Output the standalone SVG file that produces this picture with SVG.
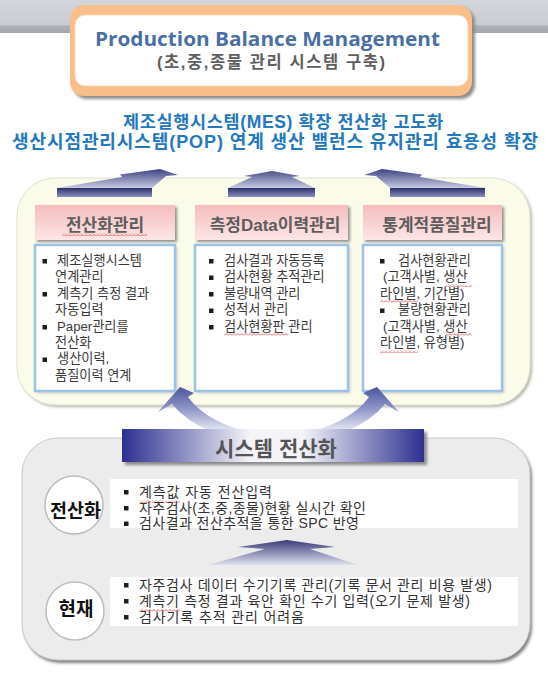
<svg xmlns="http://www.w3.org/2000/svg" width="548" height="676" viewBox="0 0 548 676">
<defs>
<style>
.kr{font-family:"Liberation Sans","Noto Sans CJK KR",sans-serif}
.en{font-family:"Open Sans","Liberation Sans",sans-serif}
.hdr{font-size:17px;font-weight:700;fill:#5e5e5e;text-anchor:middle}
.item{font-size:13.2px;fill:#3a3a3a}
.strip{font-size:14px;fill:#333}
.blue{font-weight:700;fill:#2478bd;text-anchor:middle}
.bul{fill:#1e1e1e}
.hbox{fill:url(#pink)}
.cbox{fill:#fff;stroke:#9cc3e6;stroke-width:2.5}
.shd{fill:#8c8c8c;filter:url(#blur)}
.sq{fill:url(#squig)}
.face{fill:url(#faceG)}
.bar{fill:url(#barG)}
</style>
<filter id="blur" x="-10%" y="-10%" width="120%" height="130%"><feGaussianBlur stdDeviation="1.4"/></filter>
<linearGradient id="band" x1="0" y1="0" x2="0" y2="1">
<stop offset="0" stop-color="#d3d6db"/><stop offset="0.76" stop-color="#c9ccd2"/><stop offset="0.78" stop-color="#aeb1b7"/><stop offset="1" stop-color="#a4a7ad"/>
</linearGradient>
<linearGradient id="pink" x1="0" y1="0" x2="0" y2="1">
<stop offset="0" stop-color="#f5bcbd"/><stop offset="1" stop-color="#fde6e6"/>
</linearGradient>
<linearGradient id="faceG" gradientUnits="userSpaceOnUse" x1="0" y1="169" x2="0" y2="188">
<stop offset="0" stop-color="#3c4383"/><stop offset="1" stop-color="#c6c9e0"/>
</linearGradient>
<linearGradient id="barG" gradientUnits="userSpaceOnUse" x1="0" y1="188" x2="0" y2="197">
<stop offset="0" stop-color="#2b2f69"/><stop offset="1" stop-color="#8b90be"/>
</linearGradient>
<linearGradient id="banner" x1="0" y1="0" x2="1" y2="0">
<stop offset="0" stop-color="#2c3090"/><stop offset="0.42" stop-color="#f3f3f8"/><stop offset="0.6" stop-color="#f3f3f8"/><stop offset="1" stop-color="#2c3090"/>
</linearGradient>
<linearGradient id="curveG" gradientUnits="userSpaceOnUse" x1="0" y1="386" x2="0" y2="432">
<stop offset="0" stop-color="#48529a"/><stop offset="0.5" stop-color="#8f97c8"/><stop offset="1" stop-color="#eceef6"/>
</linearGradient>
<linearGradient id="upG" gradientUnits="userSpaceOnUse" x1="0" y1="540" x2="0" y2="565">
<stop offset="0" stop-color="#383b78"/><stop offset="1" stop-color="#dfe1ef"/>
</linearGradient>
<pattern id="squig" width="4" height="3" patternUnits="userSpaceOnUse">
<path d="M0,2.5 L2,0.5 L4,2.5" fill="none" stroke="#e03a3a" stroke-width="0.8"/>
</pattern>
</defs>

<!-- background band -->
<rect x="0" y="0" width="548" height="33" fill="url(#band)"/>

<!-- title -->
<g id="title">
<rect x="73" y="8" width="402" height="91" rx="14" class="shd"/>
<rect x="70" y="5" width="402" height="91" rx="14" fill="#f8bf8a"/>
<rect x="75" y="15" width="393" height="71" rx="10" fill="#fff" stroke="#fbd7b5" stroke-width="1"/>
<text x="267.5" y="46" class="en" font-size="20" font-weight="700" fill="#4a6fa5" text-anchor="middle" textLength="345" lengthAdjust="spacingAndGlyphs">Production Balance Management</text>
<text x="271" y="68" class="kr" font-size="16.5" font-weight="700" fill="#5f5f5f" text-anchor="middle" textLength="228">(초,중,종물 관리 시스템 구축)</text>
</g>

<g id="goals">
<text x="283" y="128" class="kr blue" font-size="17.5" textLength="320">제조실행시스템(MES) 확장 전산화 고도화</text>
<text x="275" y="148" class="kr blue" font-size="18" textLength="526">생산시점관리시스템(POP) 연계 생산 밸런스 유지관리 효용성 확장</text>
</g>

<!-- cream panel -->
<g id="managePanel">
<rect x="19" y="180" width="513" height="227" rx="38" fill="#b3b3a8" filter="url(#blur)"/>
<rect x="17" y="178" width="513" height="227" rx="38" fill="#fafbe9" stroke="#e2e2d2" stroke-width="1"/>
</g>

<g id="connectors">
<path class="face" d="M57,188 L122,177 L120,174.5 L160,169 L178,175 L166,176 L152,188 Z"/>
<rect class="bar" x="57" y="188" width="95" height="9"/>
<path class="face" d="M228,188 L252,177 L244,176 L272,171 L300,176 L292,177 L315,188 Z"/>
<rect class="bar" x="228" y="188" width="87" height="9"/>
<path class="face" d="M485,188 L420,177 L422,174.5 L382,169 L364,175 L376,176 L390,188 Z"/>
<rect class="bar" x="390" y="188" width="95" height="9"/>
</g>

<g id="node-digital">
<rect x="37" y="207" width="140" height="35" class="shd"/>
<rect x="35" y="205" width="140" height="35" class="hbox"/>
<text x="105" y="231" class="kr hdr">전산화관리</text>
<rect x="62" y="233" width="85" height="3" class="sq"/>
<rect x="37" y="247" width="140" height="146" fill="#c4c4c4" filter="url(#blur)"/>
<rect x="35" y="245" width="140" height="146" class="cbox"/>
<rect x="42.5" y="259" width="4.5" height="4.5" class="bul"/>
<text x="57" y="265" class="kr item">제조실행시스템</text>
<text x="55" y="281.4" class="kr item">연계관리</text>
<rect x="42.5" y="292" width="4.5" height="4.5" class="bul"/>
<text x="57" y="297.8" class="kr item">계측기 측정 결과</text>
<text x="55" y="314.2" class="kr item">자동입력</text>
<rect x="42.5" y="325" width="4.5" height="4.5" class="bul"/>
<text x="57" y="330.6" class="kr item">Paper관리를</text>
<text x="55" y="347" class="kr item">전산화</text>
<rect x="42.5" y="357.5" width="4.5" height="4.5" class="bul"/>
<text x="57" y="363.4" class="kr item">생산이력,</text>
<text x="55" y="379.8" class="kr item">품질이력 연계</text>
</g>

<g id="node-history">
<rect x="197" y="207" width="153" height="35" class="shd"/>
<rect x="195" y="205" width="153" height="35" class="hbox"/>
<text x="275" y="231" class="kr hdr">측정Data이력관리</text>
<rect x="197" y="247" width="153" height="146" fill="#c4c4c4" filter="url(#blur)"/>
<rect x="195" y="245" width="153" height="146" class="cbox"/>
<rect x="209" y="259" width="4.5" height="4.5" class="bul"/>
<text x="224" y="265" class="kr item">검사결과 자동등록</text>
<rect x="209" y="275.5" width="4.5" height="4.5" class="bul"/>
<text x="224" y="281.4" class="kr item">검사현황 추적관리</text>
<rect x="209" y="292" width="4.5" height="4.5" class="bul"/>
<text x="224" y="297.8" class="kr item">불량내역 관리</text>
<rect x="209" y="308.5" width="4.5" height="4.5" class="bul"/>
<text x="224" y="314.2" class="kr item">성적서 관리</text>
<rect x="209" y="325" width="4.5" height="4.5" class="bul"/>
<text x="224" y="330.6" class="kr item">검사현황판 관리</text>
<rect x="224" y="333" width="64" height="3" class="sq"/>
</g>

<g id="node-spc">
<rect x="365" y="207" width="139" height="35" class="shd"/>
<rect x="363" y="205" width="139" height="35" class="hbox"/>
<text x="437" y="231" class="kr hdr">통계적품질관리</text>
<rect x="365" y="247" width="139" height="146" fill="#c4c4c4" filter="url(#blur)"/>
<rect x="363" y="245" width="139" height="146" class="cbox"/>
<rect x="380" y="259" width="4.5" height="4.5" class="bul"/>
<text x="398" y="265" class="kr item">검사현황관리</text>
<text x="383" y="281.4" class="kr item">(고객사별, 생산</text>
<rect x="446" y="284" width="26" height="3" class="sq"/>
<text x="380" y="297.8" class="kr item">라인별, 기간별)</text>
<rect x="380" y="300" width="38" height="3" class="sq"/>
<rect x="380" y="308.5" width="4.5" height="4.5" class="bul"/>
<text x="398" y="314.2" class="kr item">불량현황관리</text>
<text x="383" y="330.6" class="kr item">(고객사별, 생산</text>
<rect x="446" y="333" width="26" height="3" class="sq"/>
<text x="380" y="347" class="kr item">라인별, 유형별)</text>
<rect x="380" y="350" width="38" height="3" class="sq"/>
</g>

<!-- bottom panel -->
<g id="systemPanel">
<rect x="24" y="441" width="508" height="222" rx="36" fill="#7f7f7f" filter="url(#blur)"/>
<rect x="22" y="438" width="508" height="222" rx="36" fill="#ececec" stroke="#cacaca" stroke-width="1"/>
</g>

<g id="connectors-lower">
<path d="M158,412 L180,387 L194,393 L188,397 Q205,420 244,431 L210,431 Q186,421 172,404 Z" fill="url(#curveG)"/>
<path d="M399,412 L377,387 L363,393 L369,397 Q352,420 313,431 L347,431 Q371,421 385,404 Z" fill="url(#curveG)"/>
<path d="M208,565 L265,549 L238,547 L287,540 L335,547 L310,549 L358,565 Z" fill="url(#upG)"/>
</g>

<g id="banner">
<rect x="125" y="432" width="302" height="33" fill="#8a8a8a" filter="url(#blur)"/>
<rect x="122" y="429" width="302" height="33" fill="url(#banner)"/>
<text x="276" y="456" class="kr" font-size="21" font-weight="700" fill="#555" text-anchor="middle">시스템 전산화</text>
</g>

<g id="node-computerized">
<circle cx="74" cy="505" r="29" fill="#fff" stroke="#bdbdbd" stroke-width="1.5"/>
<text x="75.5" y="517" class="kr" font-size="18.5" font-weight="700" fill="#111" text-anchor="middle">전산화</text>
<rect x="110" y="479" width="408" height="49" fill="#fff"/>
<rect x="124" y="490" width="4.5" height="4.5" class="bul"/>
<text x="139" y="497" class="kr strip" textLength="133">계측값 자동 전산입력</text>
<rect x="139" y="500" width="41" height="3" class="sq"/>
<rect x="124" y="506" width="4.5" height="4.5" class="bul"/>
<text x="139" y="513" class="kr strip" textLength="227">자주검사(초,중,종물)현황 실시간 확인</text>
<rect x="124" y="521.5" width="4.5" height="4.5" class="bul"/>
<text x="139" y="528" class="kr strip" textLength="220">검사결과 전산추적을 통한 SPC 반영</text>
</g>

<g id="node-current">
<circle cx="75" cy="611" r="29" fill="#fff" stroke="#bdbdbd" stroke-width="1.5"/>
<text x="76" y="616" class="kr" font-size="19" font-weight="700" fill="#111" text-anchor="middle">현재</text>
<rect x="110" y="577" width="408" height="49" fill="#fff"/>
<rect x="124" y="583" width="4.5" height="4.5" class="bul"/>
<text x="139" y="590" class="kr strip" textLength="353">자주검사 데이터 수기기록 관리(기록 문서 관리 비용 발생)</text>
<rect x="124" y="599" width="4.5" height="4.5" class="bul"/>
<text x="139" y="606" class="kr strip" textLength="331">계측기 측정 결과 육안 확인 수기 입력(오기 문제 발생)</text>
<rect x="139" y="609" width="41" height="3" class="sq"/>
<rect x="124" y="615" width="4.5" height="4.5" class="bul"/>
<text x="139" y="622" class="kr strip" textLength="165">검사기록 추적 관리 어려움</text>
</g>
</svg>
